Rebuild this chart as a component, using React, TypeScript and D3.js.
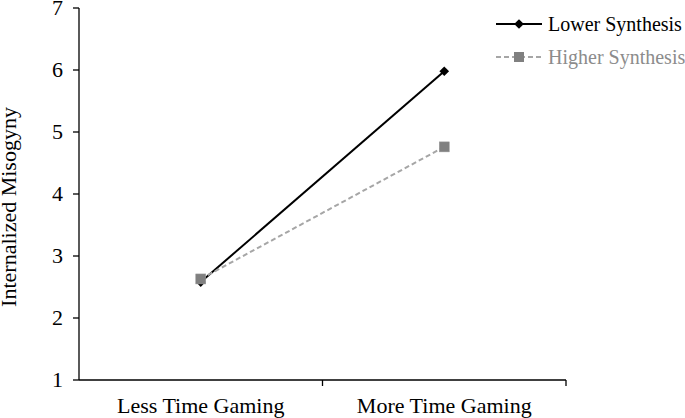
import React from 'react';
import * as d3 from 'd3';

const categories = ['Less Time Gaming', 'More Time Gaming'];
const lowerSynthesis = [2.58, 5.98];
const higherSynthesis = [2.63, 4.76];
const yTicks = [1, 2, 3, 4, 5, 6, 7];

const W = 685;
const H = 418;
const margin = { left: 79, right: 119, top: 8, bottom: 38 };

const App = () => {
  const x = d3.scaleBand().domain(categories).range([margin.left, W - margin.right]);
  const y = d3.scaleLinear().domain([1, 7]).range([H - margin.bottom, margin.top]);
  const cx = (c: string) => (x(c) as number) + x.bandwidth() / 2;

  const line = d3.line<number>()
    .x((_, i) => cx(categories[i]))
    .y((d) => y(d));

  const font = '"Liberation Serif", "Times New Roman", serif';
  const diamond = d3.symbol().type(d3.symbolDiamond2).size(60);

  const bandEdges = [...categories.map((c) => x(c) as number), x.range()[1]];

  return (
    <svg width={W} height={H} style={{ position: 'absolute', left: 0, top: 0 }} fontFamily={font}>
      {/* y axis */}
      <line x1={margin.left} x2={margin.left} y1={y(7)} y2={y(1)} stroke="#000" strokeWidth={1.3} />
      {yTicks.map((t) => (
        <g key={t}>
          <line x1={margin.left - 6} x2={margin.left} y1={y(t)} y2={y(t)} stroke="#000" strokeWidth={1.3} />
          <text x={margin.left - 16} y={y(t)} dy="0.33em" textAnchor="end" fontSize={22}>{t}</text>
        </g>
      ))}
      <text transform={`translate(16,${(y(1) + y(7)) / 2 + 13}) rotate(-90)`} textAnchor="middle" fontSize={22}>
        Internalized Misogyny
      </text>

      {/* x axis */}
      <line x1={margin.left} x2={x.range()[1]} y1={y(1)} y2={y(1)} stroke="#000" strokeWidth={1.3} />
      {bandEdges.slice(1).map((e, i) => (
        <line key={i} x1={e} x2={e} y1={y(1)} y2={y(1) + 6} stroke="#000" strokeWidth={1.3} />
      ))}
      {categories.map((c) => (
        <text key={c} x={cx(c)} y={413} textAnchor="middle" fontSize={22}>{c}</text>
      ))}

      {/* series */}
      <path d={line(lowerSynthesis) || ''} fill="none" stroke="#000" strokeWidth={2} />
      {lowerSynthesis.map((v, i) => (
        <path key={i} d={diamond() || ''} transform={`translate(${cx(categories[i])},${y(v)})`} fill="#000" />
      ))}
      <path d={line(higherSynthesis) || ''} fill="none" stroke="#A6A6A6" strokeWidth={2} strokeDasharray="5,3" />
      {higherSynthesis.map((v, i) => (
        <rect key={i} x={cx(categories[i]) - 5} y={y(v) - 5} width={10} height={10} fill="#808080" stroke="#999" strokeWidth={0.5} />
      ))}

      {/* legend */}
      <line x1={496} x2={542} y1={24} y2={24} stroke="#000" strokeWidth={2} />
      <path d={diamond() || ''} transform="translate(519,24)" fill="#000" />
      <text x={548} y={24} dy="0.33em" fontSize={20}>Lower Synthesis</text>
      <line x1={496} x2={542} y1={57} y2={57} stroke="#A6A6A6" strokeWidth={2} strokeDasharray="5,3" />
      <rect x={514} y={52} width={10} height={10} fill="#808080" />
      <text x={548} y={57} dy="0.33em" fontSize={20} fill="#8c8c8c">Higher Synthesis</text>
    </svg>
  );
};

export default App;
